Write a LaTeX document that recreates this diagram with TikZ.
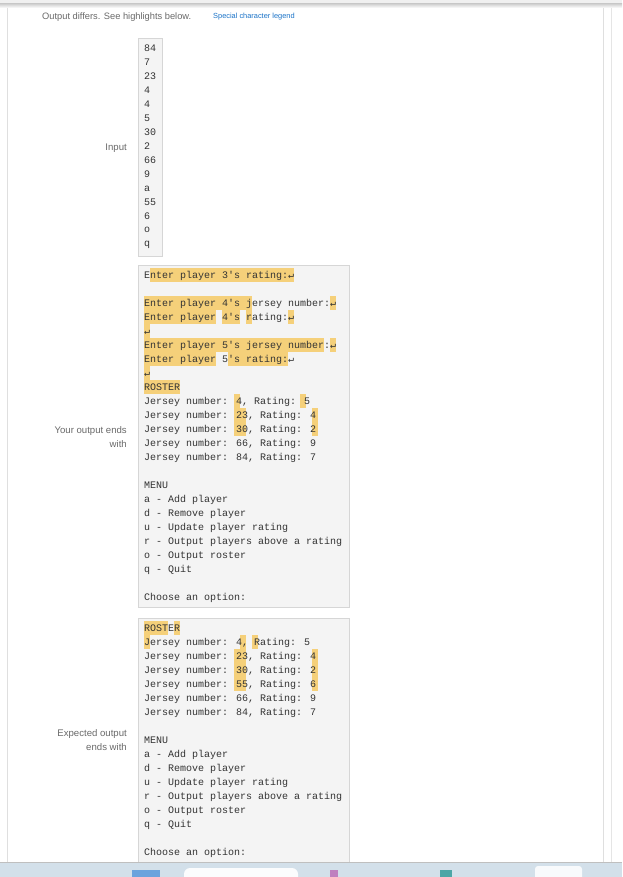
\documentclass[tikz,border=0pt]{standalone}
\usepackage{fontspec}
\setmainfont{Liberation Sans}
\newfontfamily\mono{Liberation Mono}
\newfontfamily\djm{DejaVu Sans Mono}
\newcommand\ret{{\djm\fontsize{10}{10}\selectfont ↵}}
\newcount\lc
\newcommand\tl[2]{\global\advance\lc by 1\node[tline] (t\the\lc) at (144,#1+3.6) {#2};}
\newcommand\hlr[3]{\fill[hlc] ({144+6*#2},#1-6.8) rectangle ({144+6*(#3+1)},#1+6.8);}
\definecolor{hlc}{HTML}{F5D07A}
\definecolor{boxf}{HTML}{F4F4F4}
\definecolor{boxd}{HTML}{D6D6D6}
\definecolor{txt}{HTML}{333333}
\definecolor{lab}{HTML}{6A6A6A}
\definecolor{lnk}{HTML}{1A73C8}
\definecolor{bar}{HTML}{D3E0EA}
\tikzset{
 tline/.style={anchor=base west,inner sep=0,font=\mono\fontsize{10}{12}\selectfont,text=txt},
 outbox/.style={fill=boxf,draw=boxd,line width=0.8pt},
 lbl/.style={anchor=east,inner sep=0,font=\fontsize{9.6}{14}\selectfont,text=lab,align=right},
 hlc/.style={fill=hlc}
}
\begin{document}
\begin{tikzpicture}[x=1pt,y=-1pt]
\useasboundingbox (0,0) rectangle (622,877);
\fill[white] (0,0) rectangle (622,877);
\fill[gray!12] (0,0) rectangle (622,4);
\shade[top color=gray!35,bottom color=white] (0,4) rectangle (622,8);
\draw[gray!25] (7,8) -- (7,862);
\draw[gray!25] (603,8) -- (603,862);
\draw[gray!20] (611,8) -- (611,862);
\node[anchor=west,inner sep=0,font=\fontsize{9.3}{10}\selectfont,text=lab] (hd) at (42,17) {Output differs. See highlights below.};
\node[anchor=west,inner sep=0,font=\fontsize{7.4}{8}\selectfont,text=lnk] (lg) at (213,17) {Special character legend};
% input
\draw[outbox] (138,38) rectangle (162,256);
\foreach[count=\i from 0] \v in {84,7,23,4,4,5,30,2,66,9,a,55,6,o,q}{
 \node[tline] (in\i) at (144,{48+13.95*\i+3.6}) {\v};
}
\node[lbl] (linput) at (127,148) {Input};
% your output
\draw[outbox] (138,265) rectangle (349,607);
\hlr{275}{1}{24}
\hlr{303}{0}{17}\hlr{303}{31}{31}
\hlr{317}{0}{11}\hlr{317}{13}{15}\hlr{317}{17}{17}\hlr{317}{24}{24}
\hlr{331}{0}{0}
\hlr{345}{0}{29}\hlr{345}{31}{31}
\hlr{359}{0}{11}\hlr{359}{14}{23}
\hlr{373}{0}{0}
\hlr{387}{0}{5}
\hlr{401}{15}{15}\hlr{401}{26}{26}
\hlr{415}{15}{16}\hlr{415}{28}{28}
\hlr{429}{15}{16}\hlr{429}{28}{28}
\tl{275}{Enter player 3's rating:\ret}
\tl{303}{Enter player 4's jersey number:\ret}
\tl{317}{Enter player 4's rating:\ret}
\tl{331}{\ret}
\tl{345}{Enter player 5's jersey number:\ret}
\tl{359}{Enter player 5's rating:\ret}
\tl{373}{\ret}
\tl{387}{ROSTER}
\tl{401}{Jersey number: 4, Rating: 5}
\tl{415}{Jersey number: 23, Rating: 4}
\tl{429}{Jersey number: 30, Rating: 2}
\tl{443}{Jersey number: 66, Rating: 9}
\tl{457}{Jersey number: 84, Rating: 7}
\tl{485}{MENU}
\tl{499}{a - Add player}
\tl{513}{d - Remove player}
\tl{527}{u - Update player rating}
\tl{541}{r - Output players above a rating}
\tl{555}{o - Output roster}
\tl{569}{q - Quit}
\tl{597}{Choose an option:}
\node[lbl] (lyour) at (127,437) {Your output ends\\with};
% expected
\draw[outbox] (138,618) rectangle (349,880);
\hlr{628}{0}{3}\hlr{628}{5}{5}
\hlr{642}{0}{0}\fill[hlc] (144,634) rectangle (150,636);
\hlr{642}{16}{16}\hlr{642}{18}{18}
\hlr{656}{15}{16}\hlr{656}{28}{28}
\hlr{670}{15}{16}\hlr{670}{28}{28}
\hlr{684}{15}{16}\hlr{684}{28}{28}
\fill[hlc] (234,662) rectangle (246,678);
\fill[hlc] (312,662) rectangle (318,678);
\tl{628}{ROSTER}
\tl{642}{Jersey number: 4, Rating: 5}
\tl{656}{Jersey number: 23, Rating: 4}
\tl{670}{Jersey number: 30, Rating: 2}
\tl{684}{Jersey number: 55, Rating: 6}
\tl{698}{Jersey number: 66, Rating: 9}
\tl{712}{Jersey number: 84, Rating: 7}
\tl{740}{MENU}
\tl{754}{a - Add player}
\tl{768}{d - Remove player}
\tl{782}{u - Update player rating}
\tl{796}{r - Output players above a rating}
\tl{810}{o - Output roster}
\tl{824}{q - Quit}
\tl{852}{Choose an option:}
\node[lbl] (lexp) at (127,740) {Expected output\\ends with};
% taskbar
\fill[bar] (0,862) rectangle (622,877);
\draw[gray!50] (0,862) -- (622,862);
\fill[white!90!bar,rounded corners=6pt] (184,868) rectangle (298,884);
\fill[white!85!bar,rounded corners=3pt] (535,866) rectangle (582,884);
\fill[cyan!60!blue!60] (132,870) rectangle (160,877);
\fill[violet!50] (330,870) rectangle (338,877);
\fill[teal!70] (440,870) rectangle (452,877);
\end{tikzpicture}
\end{document}
